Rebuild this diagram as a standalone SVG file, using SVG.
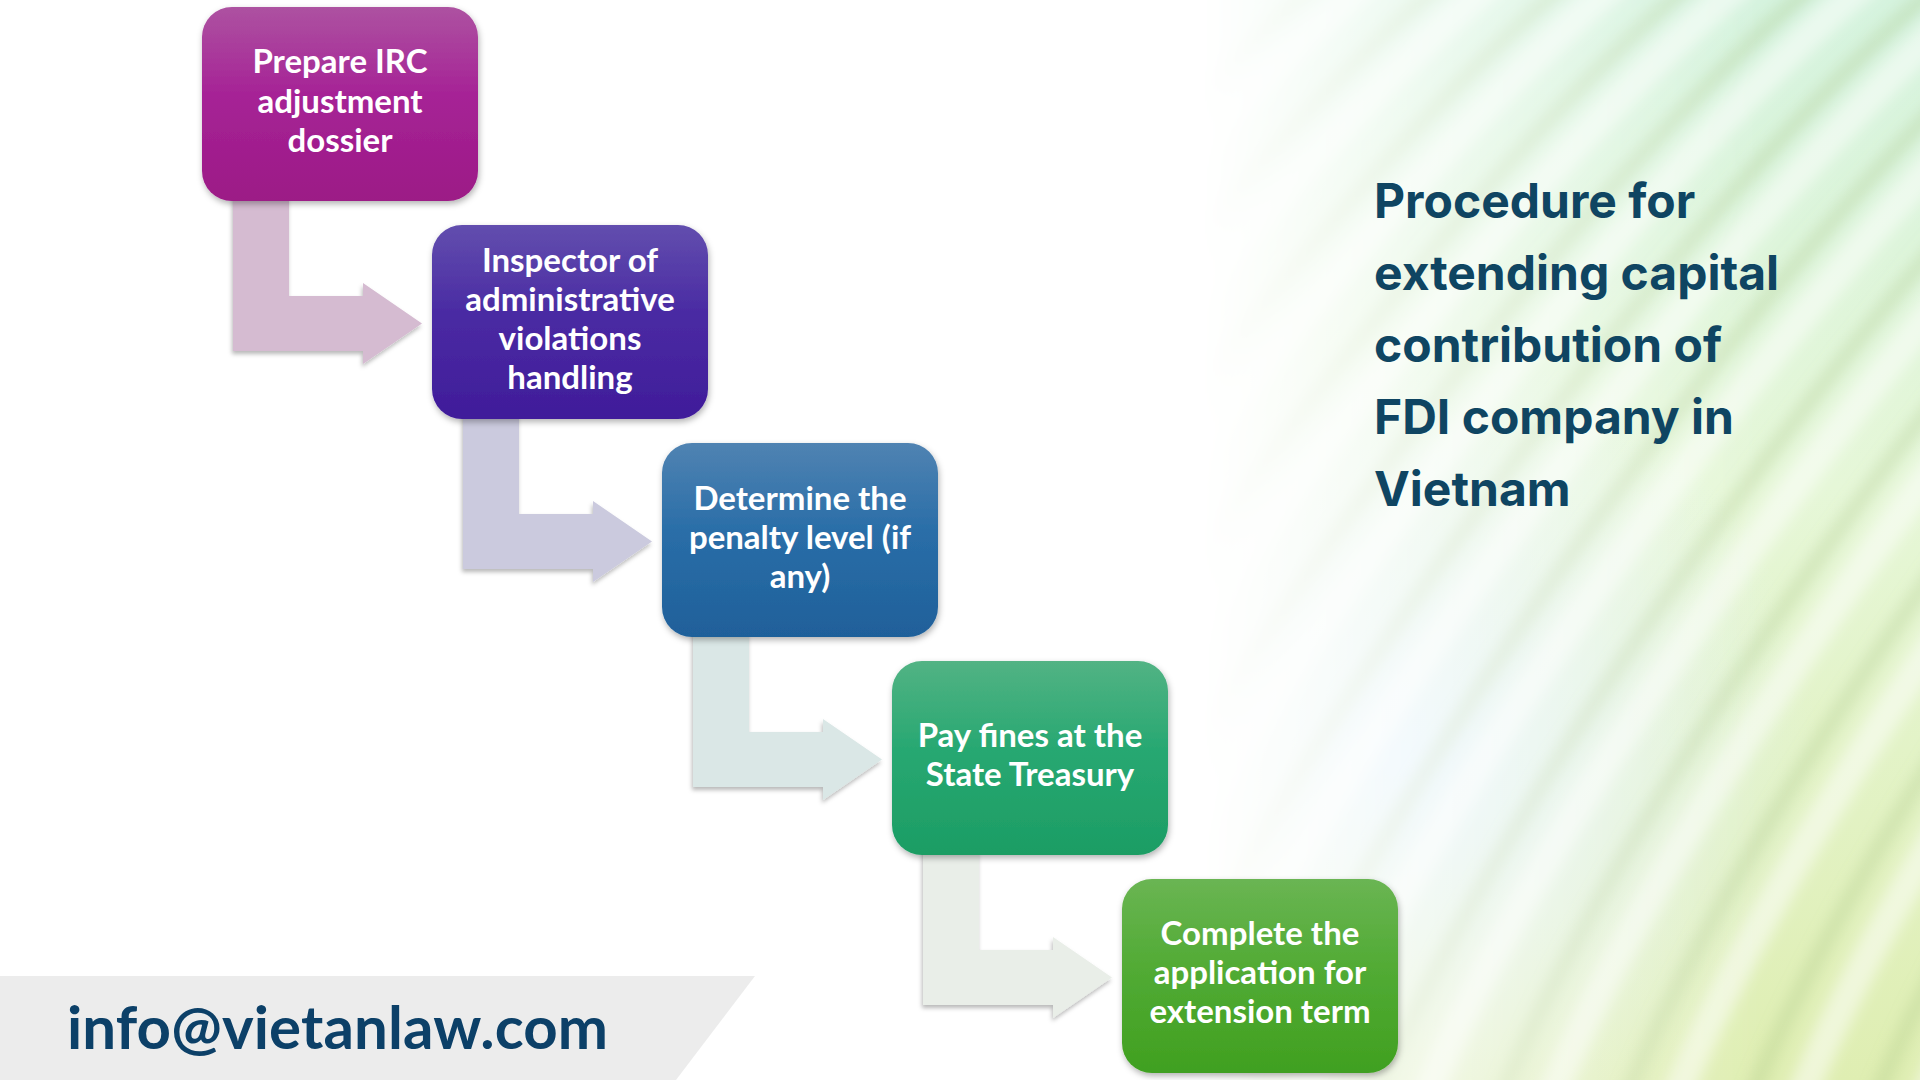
<svg xmlns="http://www.w3.org/2000/svg" width="1920" height="1080" viewBox="0 0 1920 1080">
<defs>
<style>
.nt{font-family:Lato,"Liberation Sans",sans-serif;font-weight:700;font-size:33px;fill:#ffffff;text-anchor:middle}
.title{font-family:Inter,"Liberation Sans",sans-serif;font-weight:700;font-size:48px;fill:#0F4562}
.email{font-family:Lato,"Liberation Sans",sans-serif;font-weight:700;font-size:60px;fill:#0C4068}
.box{filter:url(#sh)}
.arr{filter:url(#sh2)}
</style>
<linearGradient id="g1" x1="0" y1="0" x2="0" y2="1"><stop offset="0" stop-color="#AD52A1"/><stop offset="0.45" stop-color="#A62396"/><stop offset="1" stop-color="#9C1A86"/></linearGradient>
<linearGradient id="g2" x1="0" y1="0" x2="0" y2="1"><stop offset="0" stop-color="#624EAE"/><stop offset="0.45" stop-color="#4A2BA3"/><stop offset="1" stop-color="#401C9A"/></linearGradient>
<linearGradient id="g3" x1="0" y1="0" x2="0" y2="1"><stop offset="0" stop-color="#5083B2"/><stop offset="0.45" stop-color="#2A6EA8"/><stop offset="1" stop-color="#1F609A"/></linearGradient>
<linearGradient id="g4" x1="0" y1="0" x2="0" y2="1"><stop offset="0" stop-color="#52B384"/><stop offset="0.45" stop-color="#28A872"/><stop offset="1" stop-color="#1C9D64"/></linearGradient>
<linearGradient id="g5" x1="0" y1="0" x2="0" y2="1"><stop offset="0" stop-color="#6AB553"/><stop offset="0.45" stop-color="#52AB35"/><stop offset="1" stop-color="#40A020"/></linearGradient>
<filter id="sh" x="-10%" y="-10%" width="125%" height="130%"><feDropShadow dx="1" dy="3" stdDeviation="3" flood-color="#000" flood-opacity="0.3"/></filter>
<filter id="sh2" x="-10%" y="-10%" width="125%" height="130%"><feDropShadow dx="-1" dy="3" stdDeviation="2" flood-color="#000" flood-opacity="0.28"/></filter>
<filter id="blur" x="-10%" y="-10%" width="120%" height="120%"><feGaussianBlur stdDeviation="7"/></filter>
<linearGradient id="bgc" x1="0" y1="0" x2="0" y2="1"><stop offset="0" stop-color="#D5F3DE"/><stop offset="0.45" stop-color="#E6F7D8"/><stop offset="1" stop-color="#DFEEB2"/></linearGradient>
<radialGradient id="blue" gradientUnits="userSpaceOnUse" cx="1400" cy="760" r="420"><stop offset="0" stop-color="#E2F2FB" stop-opacity="1"/><stop offset="1" stop-color="#E2F2FB" stop-opacity="0"/></radialGradient>
<linearGradient id="fadeG" gradientUnits="userSpaceOnUse" x1="1200" y1="0" x2="1760" y2="0"><stop offset="0" stop-color="#fff" stop-opacity="0"/><stop offset="0.45" stop-color="#fff" stop-opacity="0.5"/><stop offset="1" stop-color="#fff" stop-opacity="1"/></linearGradient>
<mask id="fade" maskUnits="userSpaceOnUse" x="0" y="0" width="1920" height="1080"><rect x="0" y="0" width="1920" height="1080" fill="url(#fadeG)"/></mask>
<g id="stripes" fill="none">
<path d="M500 1100 C631 775 1052 205 1320 -20"/>
<path d="M625 1100 C756 775 1177 205 1445 -20"/>
<path d="M750 1100 C881 775 1302 205 1570 -20"/>
<path d="M875 1100 C1006 775 1427 205 1695 -20"/>
<path d="M1000 1100 C1131 775 1552 205 1820 -20"/>
<path d="M1125 1100 C1256 775 1677 205 1945 -20"/>
<path d="M1250 1100 C1381 775 1802 205 2070 -20"/>
<path d="M1375 1100 C1506 775 1927 205 2195 -20"/>
<path d="M1500 1100 C1631 775 2052 205 2320 -20"/>
<path d="M1625 1100 C1756 775 2177 205 2445 -20"/>
<path d="M1750 1100 C1881 775 2302 205 2570 -20"/>
<path d="M1875 1100 C2006 775 2427 205 2695 -20"/>
</g>
</defs>

<g id="background">
<rect x="0" y="0" width="1920" height="1080" fill="#FFFFFF"/>
<g mask="url(#fade)">
<rect x="1000" y="0" width="920" height="1080" fill="url(#bgc)"/>
<rect x="900" y="300" width="1000" height="780" fill="url(#blue)"/>
<g filter="url(#blur)">
<use href="#stripes" stroke="#9DBF7A" stroke-width="16" stroke-opacity="0.26"/>
<use href="#stripes" transform="translate(50,0)" stroke="#FFFFFF" stroke-width="30" stroke-opacity="0.5"/>
</g>
</g>
<polygon points="0,976 755,976 676,1080 0,1080" fill="#ECECEC"/>
</g>

<g id="connectors">
<polygon class="arr" points="233,195 289,195 289,296 363,296 363,283 422,323.5 363,364 363,351 233,351" fill="#D5BBD1"/>
<polygon class="arr" transform="translate(230,218)" points="233,195 289,195 289,296 363,296 363,283 422,323.5 363,364 363,351 233,351" fill="#CBCADE"/>
<polygon class="arr" transform="translate(460,436)" points="233,195 289,195 289,296 363,296 363,283 422,323.5 363,364 363,351 233,351" fill="#DAE7E6"/>
<polygon class="arr" transform="translate(690,654)" points="233,195 289,195 289,296 363,296 363,283 422,323.5 363,364 363,351 233,351" fill="#E9EEE8"/>
</g>

<g id="node1" transform="translate(202,7)">
<rect class="box" x="0" y="0" width="276" height="194" rx="30" fill="url(#g1)"/>
<text class="nt" x="138" y="66"><tspan x="138">Prepare IRC</tspan><tspan x="138" dy="39.5">adjustment</tspan><tspan x="138" dy="39.5">dossier</tspan></text>
</g>
<g id="node2" transform="translate(432,225)">
<rect class="box" x="0" y="0" width="276" height="194" rx="30" fill="url(#g2)"/>
<text class="nt" x="138" y="47"><tspan x="138">Inspector of</tspan><tspan x="138" dy="39">administrative</tspan><tspan x="138" dy="39">violations</tspan><tspan x="138" dy="39">handling</tspan></text>
</g>
<g id="node3" transform="translate(662,443)">
<rect class="box" x="0" y="0" width="276" height="194" rx="30" fill="url(#g3)"/>
<text class="nt" x="138" y="67"><tspan x="138">Determine the</tspan><tspan x="138" dy="39">penalty level (if</tspan><tspan x="138" dy="39">any)</tspan></text>
</g>
<g id="node4" transform="translate(892,661)">
<rect class="box" x="0" y="0" width="276" height="194" rx="30" fill="url(#g4)"/>
<text class="nt" x="138" y="86"><tspan x="138">Pay fines at the</tspan><tspan x="138" dy="39">State Treasury</tspan></text>
</g>
<g id="node5" transform="translate(1122,879)">
<rect class="box" x="0" y="0" width="276" height="194" rx="30" fill="url(#g5)"/>
<text class="nt" x="138" y="66"><tspan x="138">Complete the</tspan><tspan x="138" dy="39">application for</tspan><tspan x="138" dy="39">extension term</tspan></text>
</g>

<g id="title">
<text class="title" x="1374" y="218"><tspan x="1374">Procedure for</tspan><tspan x="1374" dy="72">extending capital</tspan><tspan x="1374" dy="72">contribution of</tspan><tspan x="1374" dy="72">FDI company in</tspan><tspan x="1374" dy="72">Vietnam</tspan></text>
</g>
<g id="footer">
<text class="email" x="67" y="1049" textLength="541">info@vietanlaw.com</text>
</g>
</svg>
